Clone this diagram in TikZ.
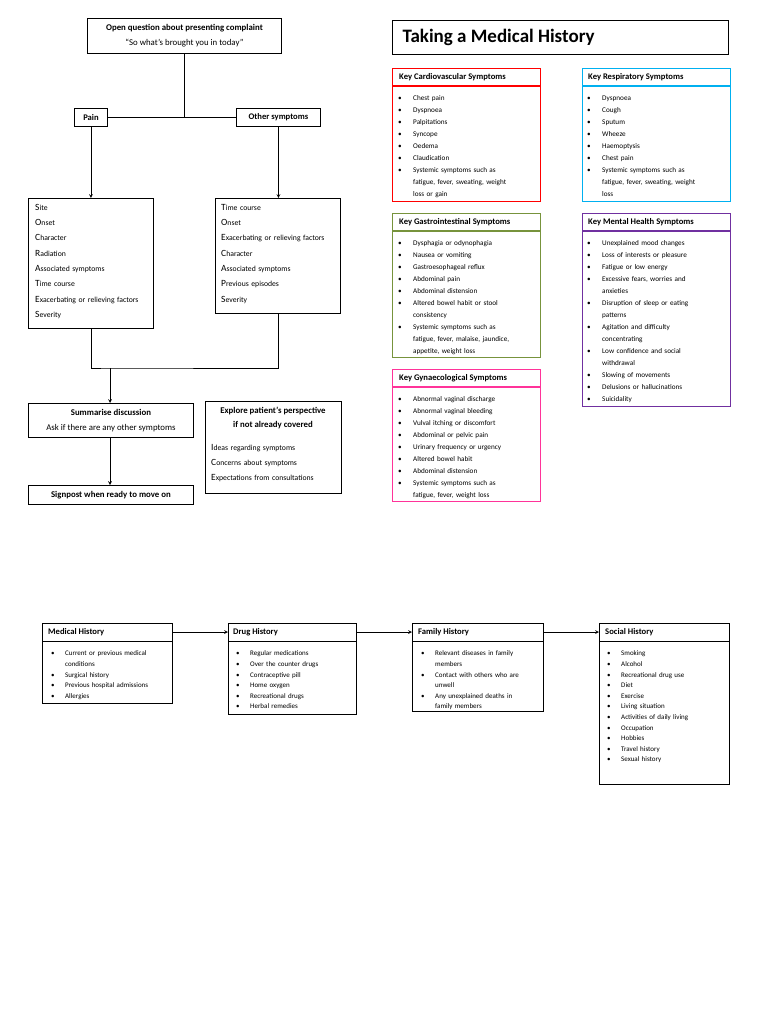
\documentclass[tikz,border=0pt]{standalone}
\usepackage{fontspec}
\setmainfont{Carlito}
\usepackage{tikz}
\usetikzlibrary{positioning}
\definecolor{cardio}{RGB}{255,0,0}
\definecolor{resp}{RGB}{0,176,240}
\definecolor{gastro}{RGB}{119,147,60}
\definecolor{mental}{RGB}{112,48,160}
\definecolor{gyn}{RGB}{255,51,153}
\newcommand{\bl}[1]{\par\hangindent=15pt\hangafter=1\noindent\makebox[15pt][l]{\textbullet}#1\par}
\newcommand{\sbl}[1]{\par\hangindent=14pt\hangafter=1\noindent\makebox[14pt][l]{\textbullet}#1\par}
\newcommand{\ini}[2]{{\fontsize{9.5}{9}\selectfont #1}#2\par}
\tikzset{
  box/.style={draw, line width=0.9pt, inner sep=0pt, anchor=north west},
  key/.style={box, line width=1.2pt},
  head/.style={font=\fontsize{8.6}{9}\selectfont\bfseries, anchor=west, inner sep=0pt},
  lst/.style={anchor=north west, inner sep=0pt, text width=150pt, align=left,
    font=\fontsize{7.2}{12}\selectfont},
  slst/.style={anchor=north west, inner sep=0pt, text width=150pt, align=left,
    font=\fontsize{7}{10.6}\selectfont},
  mn/.style={anchor=north west, inner sep=0pt, text width=140pt, align=left,
    font=\fontsize{7.7}{15.3}\selectfont},
  arr/.style={->, line width=0.7pt, >=stealth},
  ln/.style={line width=0.7pt}
}
\begin{document}
\begin{tikzpicture}[x=1pt,y=-1pt]
\useasboundingbox (0,0) rectangle (768,1024);
% flow chart
\node[box, minimum width=194, minimum height=35, align=center, font=\fontsize{8.8}{15}\selectfont] (open) at (87,18)
  {\textbf{Open question about presenting complaint}\\``So what’s brought you in today''};
\node[box, minimum width=33, minimum height=18, font=\fontsize{8.6}{9}\selectfont\bfseries] (pain) at (74,108) {Pain};
\node[box, minimum width=84, minimum height=18, font=\fontsize{8.6}{9}\selectfont\bfseries] (other) at (236,108) {Other symptoms};
\node[box, minimum width=125, minimum height=130] (socr) at (28,198) {};
\node[box, minimum width=125, minimum height=115] (toc) at (215,198) {};
\node[mn] at (35,204) {\ini{S}{ite}\ini{O}{nset}\ini{C}{haracter}\ini{R}{adiation}\ini{A}{ssociated symptoms}\ini{T}{ime course}\ini{E}{xacerbating or relieving factors}\ini{S}{everity}};
\node[mn] at (221,204) {\ini{T}{ime course}\ini{O}{nset}\ini{E}{xacerbating or relieving factors}\ini{C}{haracter}\ini{A}{ssociated symptoms}\ini{P}{revious episodes}\ini{S}{everity}};
\node[box, minimum width=165, minimum height=34, align=center, font=\fontsize{8.8}{15}\selectfont] (summ) at (28,403)
  {\textbf{Summarise discussion}\\Ask if there are any other symptoms};
\node[box, minimum width=165, minimum height=19, font=\fontsize{8.8}{9}\selectfont\bfseries] (sign) at (28,485) {Signpost when ready to move on};
\node[box, minimum width=136, minimum height=92] (expl) at (205,401) {};
\node[align=center, font=\fontsize{8.8}{14}\selectfont\bfseries, anchor=north] at (273,404) {Explore patient’s perspective\\if not already covered};
\node[mn] at (211,444) {\ini{I}{deas regarding symptoms}\ini{C}{oncerns about symptoms}\ini{E}{xpectations from consultations}};
\coordinate (join) at (110,368);
\draw[ln] (open.south) -- (open.south |- pain.east);
\draw[ln] (pain.east) -- (other.west);
\draw[arr] (pain.south) -- (socr.north);
\draw[arr] (other.south) -- (other.south |- toc.north);
\draw[ln] (socr.south) |- (join) -| (toc.south);
\draw[arr] (join) -- (join |- summ.north);
\draw[arr] (join |- summ.south) -- (join |- sign.north);
% title
\node[box, minimum width=336, minimum height=34] (title) at (392,20) {};
\node[anchor=west, font=\fontsize{19}{20}\selectfont\bfseries] at (399,37) {Taking a Medical History};
% key symptom boxes
\node[key, draw=cardio, minimum width=148, minimum height=133] (cv) at (392,68) {};
\draw[cardio, line width=1.2pt] (392,86) -- (540,86);
\node[head] at (399,77) {Key Cardiovascular Symptoms};
\node[lst] at (398,88) {\bl{Chest pain}\bl{Dyspnoea}\bl{Palpitations}\bl{Syncope}\bl{Oedema}\bl{Claudication}\bl{Systemic symptoms such as\newline fatigue, fever, sweating, weight\newline loss or gain}};
\node[key, draw=resp, minimum width=148, minimum height=133] (rs) at (582,68) {};
\draw[resp, line width=1.2pt] (582,86) -- (730,86);
\node[head] at (588,77) {Key Respiratory Symptoms};
\node[lst] at (587,88) {\bl{Dyspnoea}\bl{Cough}\bl{Sputum}\bl{Wheeze}\bl{Haemoptysis}\bl{Chest pain}\bl{Systemic symptoms such as\newline fatigue, fever, sweating, weight\newline loss}};
\node[key, draw=gastro, minimum width=148, minimum height=144] (gi) at (392,213) {};
\draw[gastro, line width=1.2pt] (392,231) -- (540,231);
\node[head] at (399,222) {Key Gastrointestinal Symptoms};
\node[lst] at (398,233) {\bl{Dysphagia or odynophagia}\bl{Nausea or vomiting}\bl{Gastroesophageal reflux}\bl{Abdominal pain}\bl{Abdominal distension}\bl{Altered bowel habit or stool\newline consistency}\bl{Systemic symptoms such as\newline fatigue, fever, malaise, jaundice,\newline appetite, weight loss}};
\node[key, draw=mental, minimum width=148, minimum height=193] (mh) at (582,213) {};
\draw[mental, line width=1.2pt] (582,231) -- (730,231);
\node[head] at (588,222) {Key Mental Health Symptoms};
\node[lst] at (587,233) {\bl{Unexplained mood changes}\bl{Loss of interests or pleasure}\bl{Fatigue or low energy}\bl{Excessive fears, worries and\newline anxieties}\bl{Disruption of sleep or eating\newline patterns}\bl{Agitation and difficulty\newline concentrating}\bl{Low confidence and social\newline withdrawal}\bl{Slowing of movements}\bl{Delusions or hallucinations}\bl{Suicidality}};
\node[key, draw=gyn, minimum width=148, minimum height=132] (gy) at (392,369) {};
\draw[gyn, line width=1.2pt] (392,387) -- (540,387);
\node[head] at (399,378) {Key Gynaecological Symptoms};
\node[lst] at (398,389) {\bl{Abnormal vaginal discharge}\bl{Abnormal vaginal bleeding}\bl{Vulval itching or discomfort}\bl{Abdominal or pelvic pain}\bl{Urinary frequency or urgency}\bl{Altered bowel habit}\bl{Abdominal distension}\bl{Systemic symptoms such as\newline fatigue, fever, weight loss}};
% history row
\node[box, minimum width=130, minimum height=80] (med) at (42,623) {};
\draw[ln] (42,641) -- (172,641);
\node[head] at (48,632) {Medical History};
\node[slst] at (51,645) {\sbl{Current or previous medical\newline conditions}\sbl{Surgical history}\sbl{Previous hospital admissions}\sbl{Allergies}};
\node[box, minimum width=128, minimum height=91] (drug) at (228,623) {};
\draw[ln] (228,641) -- (356,641);
\node[head] at (233,632) {Drug History};
\node[slst] at (236,645) {\sbl{Regular medications}\sbl{Over the counter drugs}\sbl{Contraceptive pill}\sbl{Home oxygen}\sbl{Recreational drugs}\sbl{Herbal remedies}};
\node[box, minimum width=131, minimum height=88] (fam) at (412,623) {};
\draw[ln] (412,641) -- (543,641);
\node[head] at (418,632) {Family History};
\node[slst] at (421,645) {\sbl{Relevant diseases in family\newline members}\sbl{Contact with others who are\newline unwell}\sbl{Any unexplained deaths in\newline family members}};
\node[box, minimum width=130, minimum height=161] (soc) at (599,623) {};
\draw[ln] (599,641) -- (729,641);
\node[head] at (605,632) {Social History};
\node[slst] at (607,645) {\sbl{Smoking}\sbl{Alcohol}\sbl{Recreational drug use}\sbl{Diet}\sbl{Exercise}\sbl{Living situation}\sbl{Activities of daily living}\sbl{Occupation}\sbl{Hobbies}\sbl{Travel history}\sbl{Sexual history}};
\draw[arr] (med.north east |- 0,632) -- (drug.north west |- 0,632);
\draw[arr] (drug.north east |- 0,632) -- (fam.north west |- 0,632);
\draw[arr] (fam.north east |- 0,632) -- (soc.north west |- 0,632);
\end{tikzpicture}
\end{document}
